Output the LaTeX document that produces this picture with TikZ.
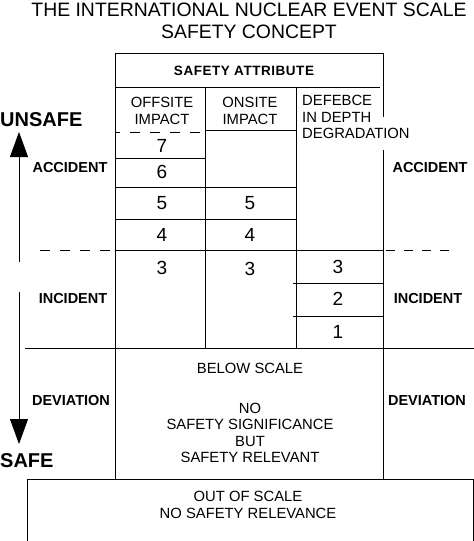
\documentclass[tikz,border=0pt]{standalone}
\usepackage{fontspec}
\setmainfont{Liberation Sans}
\usetikzlibrary{arrows.meta}
\begin{document}
\begin{tikzpicture}[x=1pt,y=-1pt,
  rule/.style={line width=1pt,black},
  dashrule/.style={line width=1pt,black,dash pattern=on 10pt off 10pt},
  body/.style={font=\fontsize{14.8}{16.5}\selectfont,align=center,inner sep=0pt},
  num/.style={font=\fontsize{19}{19}\selectfont,inner sep=0pt},
  lbl/.style={font=\fontsize{14.5}{15}\selectfont\bfseries,inner sep=0pt},
  big/.style={font=\fontsize{20}{21}\selectfont\bfseries,inner sep=0pt},
  head/.style={rule,-{Triangle[width=18pt,length=25pt]}}]
\useasboundingbox (0,0) rectangle (474,541);
% title
\node[font=\fontsize{19.4}{21.5}\selectfont,align=center,inner sep=0pt] (title) at (249,21) {THE INTERNATIONAL NUCLEAR EVENT SCALE\\SAFETY CONCEPT};
% table frame
\draw[rule] (115,53) -- (383,53);
\draw[rule] (115,53) -- (115,479);
\draw[rule] (383,53) -- (383,117);
\draw[rule] (383,150) -- (383,479);
\draw[rule] (115,87) -- (380,87);
\draw[rule] (205,87) -- (205,348);
\draw[rule] (296,87) -- (296,348);
% rows
\draw[dashrule,dash phase=5pt] (115,132) -- (205,132);
\draw[rule] (205,130) -- (296,130);
\draw[rule] (115,158) -- (205,158);
\draw[rule] (115,187) -- (296,187);
\draw[rule] (115,219) -- (296,219);
\draw[rule] (115,250) -- (383,250);
\draw[dashrule] (40,250) -- (112,250);
\draw[rule,dash pattern=on 9pt off 9pt] (386,250) -- (452,250);
\draw[rule] (293,283) -- (383,283);
\draw[rule] (293,316) -- (383,316);
\draw[rule] (25,348) -- (474,348);
\draw[rule] (27,479) -- (473,479);
\draw[rule] (27,479) -- (27,541);
\draw[rule] (473,479) -- (473,541);
% headings
\node[font=\fontsize{13.5}{14}\selectfont\bfseries\addfontfeature{LetterSpace=4}, inner sep=0pt] (attr) at (244,71) {SAFETY ATTRIBUTE};
\node[body] (off) at (162,111) {OFFSITE\\IMPACT};
\node[body] (on) at (250,111) {ONSITE\\IMPACT};
\node[body,align=left,anchor=north west] (dd) at (302,95) {DEFEBCE\\IN DEPTH\\DEGRADATION};
% numbers
\node[num] (n7) at (162,146) {7};
\node[num] (n6) at (162,172) {6};
\node[num] (n5a) at (162,203) {5};
\node[num] (n5b) at (250,203) {5};
\node[num] (n4a) at (162,235) {4};
\node[num] (n4b) at (250,235) {4};
\node[num] (n3a) at (162,268) {3};
\node[num] (n3b) at (250,269) {3};
\node[num] (n3c) at (338,267) {3};
\node[num] (n2) at (338,299) {2};
\node[num] (n1) at (338,332) {1};
% side labels
\node[big,anchor=west] (unsafe) at (0,120) {UNSAFE};
\node[big,anchor=west] (safe) at (0,461) {SAFE};
\node[lbl] (accl) at (70,168) {ACCIDENT};
\node[lbl] (accr) at (430,168) {ACCIDENT};
\node[lbl] (incl) at (73,299) {INCIDENT};
\node[lbl] (incr) at (428,299) {INCIDENT};
\node[lbl] (devl) at (71,401) {DEVIATION};
\node[lbl] (devr) at (427,401) {DEVIATION};
% arrows
\coordinate (upfrom) at (19,262);
\coordinate (upto) at (19,132);
\coordinate (dnfrom) at (19,292);
\coordinate (dnto) at (19,444);
\draw[head] (upfrom) -- (upto);
\draw[head] (dnfrom) -- (dnto);
% lower texts
\node[body] (below) at (250,368) {BELOW SCALE};
\node[body] (nosig) at (250,433) {NO\\SAFETY SIGNIFICANCE\\BUT\\SAFETY RELEVANT};
\node[body] (out) at (248,505) {OUT OF SCALE\\NO SAFETY RELEVANCE};
\end{tikzpicture}
\end{document}
